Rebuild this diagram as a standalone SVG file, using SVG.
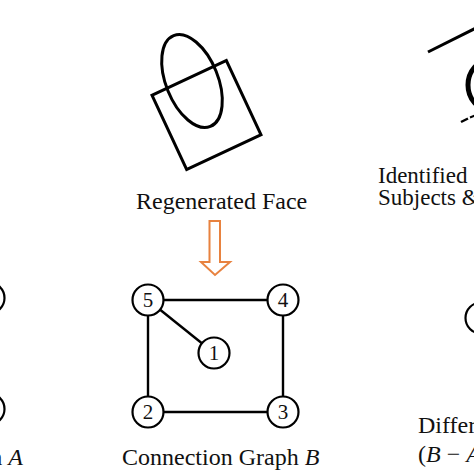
<svg xmlns="http://www.w3.org/2000/svg" width="474" height="474" viewBox="0 0 474 474">
<style>
.lbl{font-family:"Liberation Serif","Times New Roman",serif;font-size:24px;fill:#111}
.sm{font-size:23px}
.m{font-style:italic}
.shape{fill:none;stroke:#000;stroke-width:3}
.node circle{fill:#fff;stroke:#000;stroke-width:2.2}
.node text{font-family:"Liberation Serif","Times New Roman",serif;font-size:21px;fill:#111;text-anchor:middle}
.edge{stroke:#000;stroke-width:2.4;fill:none}
</style>
<rect width="474" height="474" fill="#fff"/>
<g id="regenerated-face">
<ellipse class="shape" cx="192" cy="81" rx="26" ry="49" transform="rotate(-22 192 81)"/>
<rect class="shape" x="165.5" y="74" width="82" height="82" transform="rotate(-25 206.5 115)"/>
</g>
<text class="lbl" x="136" y="209">Regenerated Face</text>
<g id="arrow">
<path d="M209.5,221 H220 V262 H230 L215,275 L201,262 H209.5 Z" fill="#fff" stroke="#E8823F" stroke-width="2"/>
</g>
<g id="connectors">
<line class="edge" x1="148" y1="300" x2="283" y2="300"/>
<line class="edge" x1="148" y1="300" x2="148" y2="412"/>
<line class="edge" x1="283" y1="300" x2="283" y2="412"/>
<line class="edge" x1="148" y1="412" x2="283" y2="412"/>
<line class="edge" x1="148" y1="300" x2="214" y2="353"/>
</g>
<g id="node5" class="node"><circle cx="148" cy="300" r="15.5"/><text x="148" y="307">5</text></g>
<g id="node4" class="node"><circle cx="283" cy="300" r="15.5"/><text x="283" y="307">4</text></g>
<g id="node1" class="node"><circle cx="214" cy="353" r="15.5"/><text x="214" y="360">1</text></g>
<g id="node2" class="node"><circle cx="148" cy="412" r="15.5"/><text x="148" y="419">2</text></g>
<g id="node3" class="node"><circle cx="283" cy="412" r="15.5"/><text x="283" y="419">3</text></g>
<text class="lbl" x="122" y="465">Connection Graph <tspan class="m">B</tspan></text>
<g id="left-partial">
<circle cx="-11" cy="298" r="15.5" fill="#fff" stroke="#000" stroke-width="2.2"/>
<circle cx="-11" cy="409" r="15.5" fill="#fff" stroke="#000" stroke-width="2.2"/>
<text class="lbl" x="23" y="465" text-anchor="end">Connection Graph <tspan class="m">A</tspan></text>
</g>
<g id="right-partial">
<line x1="428" y1="52" x2="476" y2="28" stroke="#000" stroke-width="3"/>
<ellipse cx="490" cy="85" rx="22" ry="25" fill="none" stroke="#000" stroke-width="5"/>
<line x1="461" y1="122" x2="468" y2="118.5" stroke="#000" stroke-width="2.5"/>
<line x1="470" y1="117.5" x2="476" y2="115" stroke="#000" stroke-width="2"/>
<circle cx="481" cy="318" r="15.5" fill="#fff" stroke="#000" stroke-width="2.2"/>
<text class="lbl sm" x="378" y="183">Identified</text>
<text class="lbl sm" x="378" y="205">Subjects &amp;</text>
<text class="lbl" x="418" y="433">Difference</text>
<text class="lbl" x="418" y="462">(<tspan class="m">B</tspan> − <tspan class="m">A</tspan>)</text>
</g>
</svg>
